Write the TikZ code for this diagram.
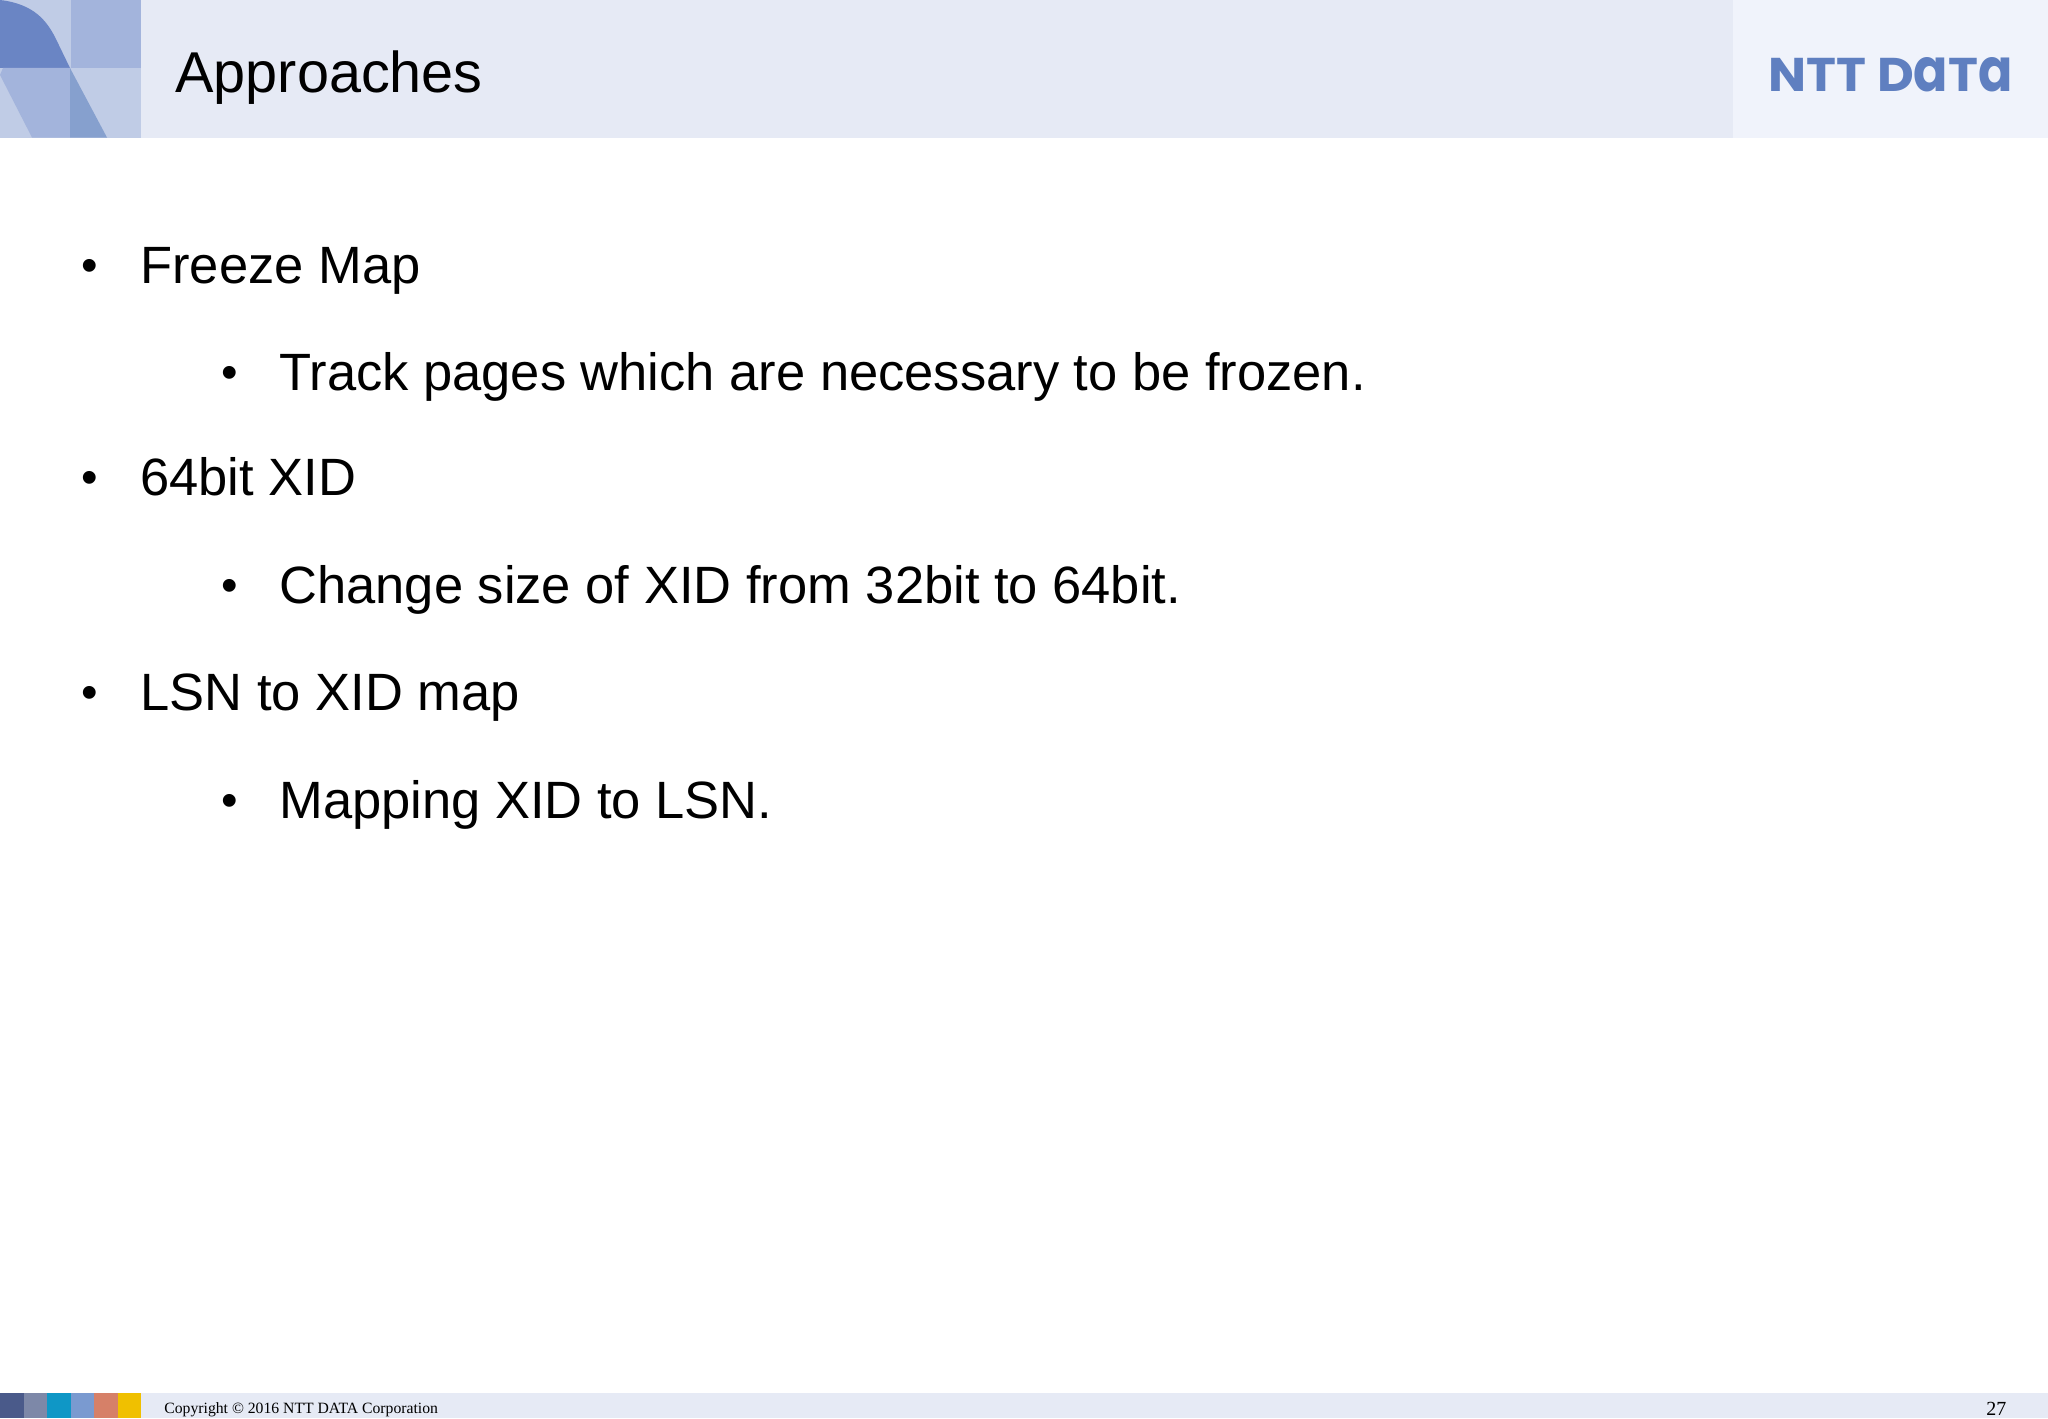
\documentclass[tikz,border=0pt]{standalone}
\usepackage{fontspec}
\setmainfont{Liberation Sans}
\newfontfamily\footfont{Liberation Serif}
\newfontfamily\logofont{Poppins}
\definecolor{bandblue}{HTML}{E6EAF5}
\definecolor{logoback}{HTML}{F0F3FB}
\definecolor{logoblue}{HTML}{5F7FC0}
\definecolor{tilelight}{HTML}{C0CCE6}
\definecolor{tilemid}{HTML}{A3B4DC}
\definecolor{tiledark}{HTML}{6A85C4}
\definecolor{tileslate}{HTML}{86A0CE}
\definecolor{stripa}{HTML}{4A5A8A}
\definecolor{stripb}{HTML}{7D88A8}
\definecolor{stripc}{HTML}{0F97C6}
\definecolor{stripd}{HTML}{7A9AD0}
\definecolor{stripe}{HTML}{D68068}
\definecolor{stripf}{HTML}{F0C000}
\newcommand{\logoa}{\scalebox{1}[1.27]{a}}
\tikzset{
  itemtext/.style={anchor=base west,inner sep=0pt,font=\fontsize{26.25}{30}\selectfont,text=black},
  itemdot/.style={anchor=base,inner sep=0pt,font=\fontsize{23.6}{26}\selectfont,text=black},
  foottext/.style={anchor=base west,inner sep=0pt,font=\footfont\fontsize{7.85}{10}\selectfont,text=black},
}
\begin{document}
\begin{tikzpicture}[x=0.5pt,y=-0.5pt]
\useasboundingbox (0,0) rectangle (2048,1418);
% header band
\fill[bandblue] (141,0) rectangle (1733,137.5);
\fill[logoback] (1733,0) rectangle (2048,137.5);
\fill[tilelight] (0,0) rectangle (141,137.5);
\fill[tilemid] (71,0) rectangle (141,68);
\fill[tiledark] (0,0) .. controls (35,4) and (47,22) .. (55,37) -- (70,68) -- (0,68) -- cycle;
\fill[tilemid] (0,75) -- (3,68) -- (70,68) -- (70,137.5) -- (32,137.5) -- cycle;
\fill[tileslate] (70,68) -- (107,137.5) -- (70,137.5) -- cycle;
\node[anchor=base west,inner sep=0pt,font=\fontsize{28.8}{32}\selectfont,text=black] (title) at (175,92.5) {Approaches};
\node[anchor=south west,inner sep=0pt,text=logoblue] (logo) at (1768,92)
  {\resizebox{122pt}{17pt}{\logofont\bfseries NTT D\logoa T\logoa}};
% items
\node[itemdot] (dota) at (89.5,281.5) {•};
\node[itemtext] (itema) at (140,283.5) {Freeze Map};
\node[itemdot] (dotb) at (229.5,388.5) {•};
\node[itemtext] (itemb) at (279,390.5) {Track pages which are necessary to be frozen.};
\node[itemdot] (dotc) at (89.5,493.5) {•};
\node[itemtext] (itemc) at (140,495.5) {64bit XID};
\node[itemdot] (dotd) at (229.5,601.5) {•};
\node[itemtext] (itemd) at (279,603.5) {Change size of XID from 32bit to 64bit.};
\node[itemdot] (dote) at (89.5,708.5) {•};
\node[itemtext] (iteme) at (140,710.5) {LSN to XID map};
\node[itemdot] (dotf) at (229.5,816.5) {•};
\node[itemtext] (itemf) at (279,818.5) {Mapping XID to LSN.};
% footer
\fill[bandblue] (141,1393) rectangle (2048,1418);
\fill[stripa] (0,1393) rectangle (24,1418);
\fill[stripb] (24,1393) rectangle (47,1418);
\fill[stripc] (47,1393) rectangle (71,1418);
\fill[stripd] (71,1393) rectangle (94,1418);
\fill[stripe] (94,1393) rectangle (118,1418);
\fill[stripf] (118,1393) rectangle (141,1418);
\node[foottext] (copy) at (164,1413) {Copyright © 2016 NTT DATA Corporation};
\node[anchor=base west,inner sep=0pt,font=\footfont\fontsize{10}{12}\selectfont,text=black] (page) at (1986,1415) {27};
\end{tikzpicture}
\end{document}
